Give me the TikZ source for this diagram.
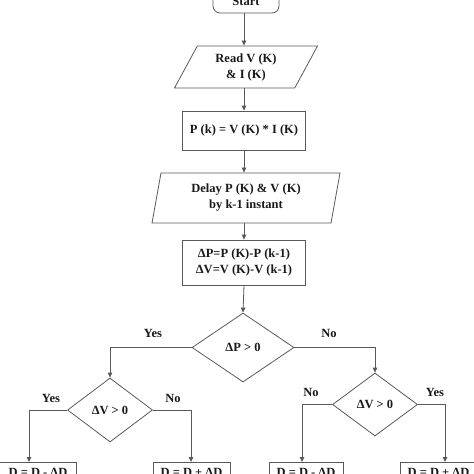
\documentclass[tikz,border=0pt]{standalone}
\usepackage{fontspec}
\setmainfont{Liberation Serif}
\usepackage{tikz}
\usetikzlibrary{shapes.geometric,arrows.meta}

\begin{document}
\begin{tikzpicture}[x=1pt,y=-1pt,
		linha/.style={draw=black!65, line width=0.8pt},
		seta/.style={linha, -{Triangle[length=5pt,width=4.5pt]}},
		texto/.style={font=\fontsize{12.5}{16}\selectfont\bfseries, text=black!90, align=center},
		caixa/.style={texto, linha, rectangle, inner sep=2pt},
		paral/.style={texto, linha, trapezium, trapezium stretches body=true, inner sep=2pt},
		decisao/.style={texto, linha, diamond, inner sep=0pt}]
		\useasboundingbox (0,0) rectangle (474,474);
		
		% Blocos principais
		\node[caixa, rounded corners=7pt, minimum width=66pt, minimum height=24pt] (inicio) at (246,1) {Start};
		\node[paral, trapezium left angle=54, trapezium right angle=126, minimum width=143pt, minimum height=42pt] (leitura) at (246,67) {Read V (K)\\ \& I (K)};
		\node[caixa, minimum width=123pt, minimum height=39pt] (potencia) at (244,130.5) {P (k) = V (K) * I (K)};
		\node[paral, trapezium left angle=74, trapezium right angle=106, minimum width=188pt, minimum height=50pt] (atraso) at (246,198) {Delay P (K) \& V (K)\\ by k-1 instant};
		\node[caixa, minimum width=123pt, minimum height=45pt] (delta) at (244,262.5) {ΔP=P (K)-P (k-1)\\ ΔV=V (K)-V (k-1)};
		
		% Decisões
		\node[decisao, minimum width=102pt, minimum height=69pt] (dp) at (243,347.5) {ΔP > 0};
		\node[decisao, minimum width=85pt, minimum height=64pt] (dvesq) at (110,410) {ΔV > 0};
		\node[decisao, minimum width=85pt, minimum height=63pt] (dvdir) at (375,404.5) {ΔV > 0};
		
		% Saídas
		\node[caixa, minimum width=77pt, minimum height=20pt] (saida1) at (38,472) {D = D - ΔD};
		\node[caixa, minimum width=77pt, minimum height=20pt] (saida2) at (191.5,472) {D = D + ΔD};
		\node[caixa, minimum width=74pt, minimum height=20pt] (saida3) at (306,472) {D = D - ΔD};
		\node[caixa, minimum width=77pt, minimum height=20pt] (saida4) at (438.5,472) {D = D + ΔD};
		\coordinate (c1) at (29,462);
		\coordinate (c2) at (191,462);
		\coordinate (c3) at (302,462);
		\coordinate (c4) at (445,462);
		
		% Ligações
		\draw[seta] (inicio.south -| 244,0) -- (leitura.north -| 244,0);
		\draw[seta] (leitura.south -| 244,0) -- (potencia.north);
		\draw[seta] (potencia.south) -- (atraso.north -| 244,0);
		\draw[seta] (atraso.south -| 244,0) -- (delta.north);
		\draw[seta] (delta.south) -- (dp.north);
		\draw[seta] (dp.west) -| (dvesq.north);
		\draw[seta] (dp.east) -| (dvdir.north);
		\draw[seta] (dvesq.west) -| (c1);
		\draw[seta] (dvesq.east) -| (c2);
		\draw[seta] (dvdir.west) -| (c3);
		\draw[seta] (dvdir.east) -| (c4);
		
		% Rótulos
		\node[texto] (sim1) at (153,333) {Yes};
		\node[texto] (nao1) at (329,333) {No};
		\node[texto] (sim2) at (51,398) {Yes};
		\node[texto] (nao2) at (173,398) {No};
		\node[texto] (nao3) at (311,392) {No};
		\node[texto] (sim3) at (435,392) {Yes};
		
	\end{tikzpicture}
\end{document}
